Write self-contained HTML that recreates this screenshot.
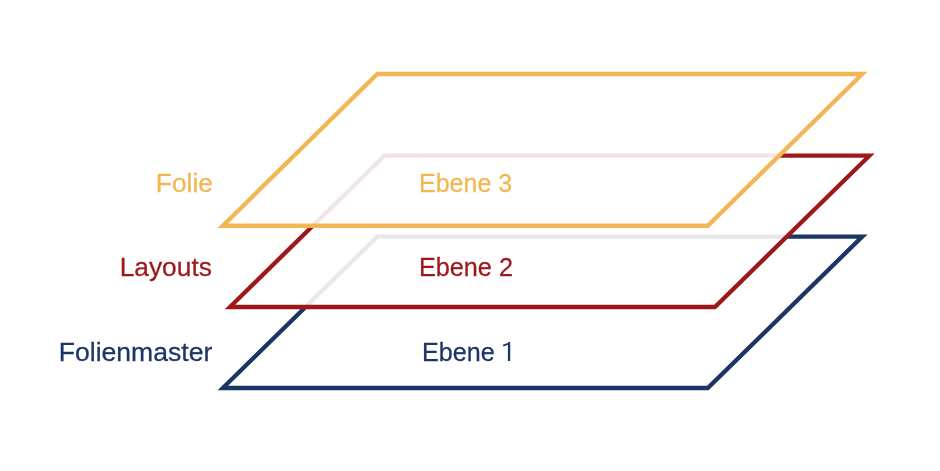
<!DOCTYPE html>
<html><head><meta charset="utf-8"><style>
html,body{margin:0;padding:0;background:#fff;}
body{width:940px;height:471px;overflow:hidden;position:relative;}
svg{position:absolute;left:0;top:0;will-change:transform;}
.t{font-family:"Liberation Sans",sans-serif;}
</style></head><body>
<svg width="940" height="471" viewBox="0 0 940 471">
<polygon points="377.30,236.60 862.30,236.60 707.80,388.00 222.80,388.00" fill="#fff" fill-opacity="0.89" stroke="#1B3664" stroke-width="4.3" stroke-miterlimit="10"/>
<text class="t" font-size="100" transform="matrix(0.26573 0 0 0.26667 58.741 360.917)" fill="#1B3664" stroke="#1B3664" stroke-width="1.0">Folienmaster</text>
<text class="t" font-size="100" transform="matrix(0.25117 0 0 0.26667 422.053 360.917)" fill="#1B3664" stroke="#1B3664" stroke-width="1.0">Ebene</text>
<path d="M507.9 342.1H510.2V360.9H507.9Z M510.1 342.1L502.8 344.8L503.4 346.6L508.0 344.8L508.0 343.2Z" fill="#1B3664"/>
<polygon points="384.40,155.70 869.40,155.70 714.90,307.00 229.90,307.00" fill="#fff" fill-opacity="0.89" stroke="#9D181A" stroke-width="4.3" stroke-miterlimit="10"/>
<text class="t" font-size="100" transform="matrix(0.26333 0 0 0.26667 119.659 276.217)" fill="#9D181A" stroke="#9D181A" stroke-width="1.0">Layouts</text>
<text class="t" font-size="100" transform="matrix(0.25246 0 0 0.26667 418.943 276.217)" fill="#9D181A" stroke="#9D181A" stroke-width="1.0">Ebene 2</text>
<polygon points="377.30,74.00 862.30,74.00 707.80,225.75 222.80,225.75" fill="#fff" fill-opacity="0.89" stroke="#F2B752" stroke-width="4.3" stroke-miterlimit="10"/>
<text class="t" font-size="100" transform="matrix(0.26341 0 0 0.26667 155.859 191.917)" fill="#F2B752" stroke="#F2B752" stroke-width="1.0">Folie</text>
<text class="t" font-size="100" transform="matrix(0.25042 0 0 0.26667 418.959 191.917)" fill="#F2B752" stroke="#F2B752" stroke-width="1.0">Ebene 3</text>
</svg>
</body></html>
